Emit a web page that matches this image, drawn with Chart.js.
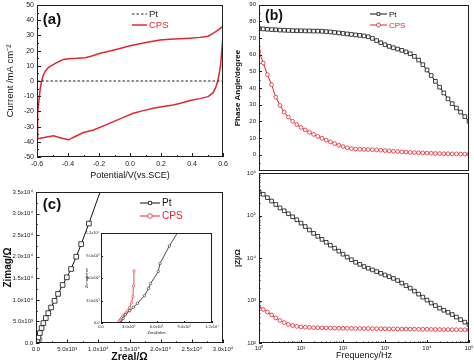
<!DOCTYPE html>
<html><head><meta charset="utf-8">
<script src="https://cdn.jsdelivr.net/npm/chart.js@4/dist/chart.umd.min.js"></script>
<style>
html,body{margin:0;padding:0;background:#fff;}
body{width:474px;height:364px;position:relative;overflow:hidden;}
canvas{position:absolute;}
</style></head><body>
<canvas id="ca" width="230" height="182" style="left:0;top:0"></canvas>
<canvas id="cc" width="242" height="182" style="left:0;top:182px"></canvas>
<canvas id="ci" width="142" height="112" style="left:78px;top:224px"></canvas>
<canvas id="cb" width="244" height="176" style="left:230px;top:0"></canvas>
<canvas id="cd" width="244" height="199" style="left:230px;top:165px"></canvas>
<script>
// ---------- DATA ----------
// (a) cyclic voltammetry
const ptV = [-0.6, 0.6];
const ptI = [0, 0];
const cpsV = [-0.6,-0.598,-0.594,-0.587,-0.579,-0.570,-0.561,-0.546,-0.525,-0.493,-0.461,-0.429,-0.396,-0.343,-0.289,-0.246,-0.193,-0.129,-0.064,0.0,0.064,0.129,0.193,0.257,0.321,0.386,0.45,0.504,0.536,0.568,0.596,0.602,0.596,0.589,0.583,0.574,0.566,0.553,0.536,0.504,0.45,0.396,0.343,0.279,0.214,0.15,0.086,0.021,-0.043,-0.107,-0.171,-0.236,-0.3,-0.354,-0.396,-0.439,-0.493,-0.536,-0.579,-0.6];
const cpsI = [-37.6,-30,-21.2,-12.5,-4.8,0,3.3,6.6,9.0,10.9,12.7,14.2,14.7,14.9,15.3,16.4,18.2,19.7,21.4,23.2,24.5,25.8,26.9,27.4,27.8,28.2,28.7,29.5,31.3,33.5,35.7,34.6,24.7,16,9.4,3.9,0,-4.2,-7.7,-10.3,-11.6,-12.7,-14.2,-15.8,-16.8,-17.9,-19.5,-21.2,-23.9,-26.7,-29.5,-32.2,-33.9,-36.5,-38.7,-37.6,-36.1,-36.8,-37.6,-38.3];
const aXTicks = [-0.6,-0.4,-0.2,0,0.2,0.4,0.6];
const aXLabels = ['-0.6','-0.4','-0.2','0.0','0.2','0.4','0.6'];
const aYTicks = [-50,-40,-30,-20,-10,0,10,20,30,40,50];
const aYLabels = ['-50','-40','-30','-20','-10','0','10','20','30','40','50'];

// (b),(d) Bode
const freq = [1,1.259,1.585,1.995,2.512,3.162,3.981,5.012,6.31,7.943,10,12.59,15.85,19.95,25.12,31.62,39.81,50.12,63.1,79.43,100,125.9,158.5,199.5,251.2,316.2,398.1,501.2,631,794.3,1000,1259,1585,1995,2512,3162,3981,5012,6310,7943,10000,12589,15849,19953,25119,31623,39811,50119,63096,79433,100000];
const ptPhase = [75.8,75.5,75.3,75.1,75.0,74.8,74.7,74.6,74.5,74.4,74.4,74.3,74.3,74.2,74.2,74.1,73.9,73.7,73.4,73.1,72.8,72.5,72.2,71.9,71.6,71.3,70.8,69.8,68.5,67.2,66.0,65.0,64.2,63.4,62.6,61.7,60.6,59.0,56.8,54.0,50.8,47.5,44.0,40.5,37.0,33.5,30.6,28.0,25.5,22.8,20.0];
const cpsPhase = [62.0,55.0,48.0,42.0,34.5,29.5,25.5,22.5,20.0,18.0,16.3,14.8,13.4,12.1,10.9,9.8,8.7,7.6,6.6,5.6,4.8,4.1,3.6,3.3,3.2,3.1,3.0,2.9,2.8,2.6,2.4,2.2,2.0,1.8,1.6,1.5,1.3,1.2,1.1,1.0,0.9,0.8,0.7,0.6,0.5,0.5,0.4,0.4,0.3,0.3,0.2];
const ptZ = [363000,316000,263000,219000,182000,151000,129000,110000,93300,79400,66100,55000,45700,38000,32400,27500,23400,20000,17000,14500,12300,10500,9120,7940,7080,6310,5750,5250,4790,4370,3980,3630,3310,2950,2570,2240,1950,1660,1410,1200,1020,871,759,661,589,525,468,407,355,309,269];
const cpsZ = [708,617,537,457,389,339,302,275,257,246,239,235,232,230,228,227,226,225,224,223,222,222,221,220,220,219,218,218,217,216,216,215,215,214,213,213,212,212,211,210,210,209,209,208,207,207,206,206,205,205,204];
const bYTicks = [0,10,20,30,40,50,60,70,80,90];
const bYLabels = ['0','10','20','30','40','50','60','70','80','90'];
const fTicks = [1,10,100,1000,10000,100000];
const fLabels = ['10⁰','10¹','10²','10³','10⁴','10⁵'];
const zTicks = [100,1000,10000,100000,1000000];
const zLabels = ['10²','10³','10⁴','10⁵','10⁶'];

// (c) Nyquist
const ptRe = [110,220,390,620,900,1180,1570,1970,2420,2980,3540,4270,4940,5620,6460,7250,8480,10400];
const ptIm = [150,620,1310,2310,3460,4620,5770,6920,8230,9770,11380,13460,15230,17150,20000,22920,27690,35500];
const cpsRe = [80,180,300,450,600];
const cpsIm = [60,200,380,600,850];
const cXTicks = [0,5000,10000,15000,20000,25000,30000];
const cXLabels = ['0.0','5.0x10³','1.0x10⁴','1.5x10⁴','2.0x10⁴','2.5x10⁴','3.0x10⁴'];
const cYTicks = [0,5000,10000,15000,20000,25000,30000,35000];
const cYLabels = ['0.0','5.0x10³','1.0x10⁴','1.5x10⁴','2.0x10⁴','2.5x10⁴','3.0x10⁴','3.5x10⁴'];
// inset
const inPtRe = [2140,2400,2625,3110,3500,3940,4690,5140,5360,6190,6375,7390,8300];
const inPtIm = [0,600,1110,1640,2100,2610,3630,4600,5270,6860,7930,10270,12100];
const inCpsRe = [1900,1980,2060,2150,2250,2380,2520,2700,2900,3100,3300,3450,3500,3560];
const inCpsIm = [80,220,380,540,720,900,1100,1350,1650,2050,2700,3500,4900,6950];
const iTicks = [0,3000,6000,9000,12000];
const iLabels = ['0.0','3.0x10³','6.0x10³','9.0x10³','1.2x10⁴'];

// ---------- HELPERS ----------
const RED = '#e3262e';
const FONT = '"Liberation Sans", Arial, Helvetica, sans-serif';
Chart.defaults.font.family = FONT;

const pts = (xs, ys) => xs.map((x, i) => ({x, y: ys[i]}));
const minorLin = v => { const o = []; for (let i = 0; i < v.length - 1; i++) o.push((v[i] + v[i+1]) / 2); return o; };
const minorLog = (min, max) => { const o = []; for (let d = Math.round(Math.log10(min)); Math.pow(10, d) < max; d++) for (let k = 2; k < 10; k++) o.push(k * Math.pow(10, d)); return o; };

function axis(o) {
  return {
    type: o.type || 'linear', min: o.min, max: o.max,
    grid: {display: false, drawTicks: false}, border: {display: false},
    ticks: {display: !!o.labels, font: {family: FONT, size: o.size || 6.5}, color: '#222', padding: o.pad || 2,
            maxRotation: 0, autoSkip: false, callback: (v, i) => o.labels ? o.labels[i] : ''},
    afterBuildTicks: s => { s.ticks = o.vals.map(v => ({value: v})); },
    afterFit: s => {
      if (s.isHorizontal()) s.height = o.fit; else s.width = o.fit;
      s.paddingLeft = 0; s.paddingRight = 0; s.paddingTop = 0; s.paddingBottom = 0;
    },
    title: o.title ? {display: true, text: o.title, color: '#111',
      font: {family: FONT, size: o.tsize, weight: o.tbold ? 'bold' : 'normal'},
      padding: {top: o.tpad, bottom: o.tpad}} : {display: false}
  };
}

function marker(ctx, style, x, y, r, color, bw) {
  ctx.save(); ctx.setLineDash([]); ctx.fillStyle = '#fff'; ctx.strokeStyle = color; ctx.lineWidth = bw || 1;
  ctx.beginPath();
  if (style === 'rect') { const s = r * Math.SQRT1_2; ctx.rect(x - s, y - s, 2 * s, 2 * s); }
  else ctx.arc(x, y, r, 0, Math.PI * 2);
  ctx.fill(); ctx.stroke(); ctx.restore();
}

const framePlugin = {
  id: 'frame',
  afterDatasetsDraw(chart, args, o) {
    const {ctx, chartArea: a, scales} = chart;
    ctx.save();
    ctx.strokeStyle = '#1e1e1e'; ctx.lineWidth = 1; ctx.setLineDash([]);
    const L = Math.round(a.left), T = Math.round(a.top), R = Math.round(a.right), B = Math.round(a.bottom);
    ctx.strokeRect(L + 0.5, T + 0.5, R - L - 1, B - T - 1);
    const maj = o.tick || 4, mn = maj / 2;
    ctx.beginPath();
    if (!o.noX) {
      const s = scales.x;
      s.ticks.forEach(t => { const p = Math.round(s.getPixelForValue(t.value)) + 0.5; ctx.moveTo(p, B); ctx.lineTo(p, B - maj); });
      (o.xMinor || []).forEach(v => { const p = Math.round(s.getPixelForValue(v)) + 0.5; ctx.moveTo(p, B); ctx.lineTo(p, B - mn); });
    }
    const sy = scales.y;
    sy.ticks.forEach(t => { const p = Math.round(sy.getPixelForValue(t.value)) + 0.5; ctx.moveTo(L, p); ctx.lineTo(L + maj, p); });
    (o.yMinor || []).forEach(v => { const p = Math.round(sy.getPixelForValue(v)) + 0.5; ctx.moveTo(L, p); ctx.lineTo(L + mn, p); });
    ctx.stroke();
    if (o.legend) {
      const g = o.legend;
      chart.data.datasets.forEach((ds, i) => {
        if (!ds.label) return;
        const y = g.y + i * g.dy;
        ctx.save();
        ctx.strokeStyle = ds.borderColor; ctx.lineWidth = ds.borderWidth || 1; ctx.setLineDash(ds.borderDash || []);
        ctx.beginPath(); ctx.moveTo(g.x, y); ctx.lineTo(g.x + g.len, y); ctx.stroke();
        ctx.restore();
        if (g.r) marker(ctx, ds.pointStyle, g.x + g.len / 2, y, g.r, ds.borderColor, 0.8);
        ctx.fillStyle = ds.borderColor; ctx.font = g.size + 'px ' + FONT; ctx.textBaseline = 'middle'; ctx.textAlign = 'left';
        ctx.fillText(ds.label, g.x + g.len + 2, y + 0.5);
      });
    }
    if (o.label) {
      ctx.fillStyle = '#111'; ctx.font = 'bold ' + o.label.size + 'px ' + FONT;
      ctx.textBaseline = 'middle'; ctx.textAlign = 'center';
      ctx.fillText(o.label.text, o.label.x, o.label.y);
    }
    ctx.restore();
  }
};
Chart.register(framePlugin);

function options(padding, x, y, frame) {
  return {responsive: false, animation: false, devicePixelRatio: 1, layout: {padding},
    plugins: {legend: {display: false}, tooltip: {enabled: false}, frame}, scales: {x, y}};
}

// ---------- (a) ----------
new Chart(document.getElementById('ca'), {
  type: 'scatter',
  data: {datasets: [
    {label: 'Pt', data: pts(ptV, ptI), showLine: true, borderColor: '#222', borderWidth: 1, borderDash: [2.5, 2], pointRadius: 0},
    {label: 'CPS', data: pts(cpsV, cpsI), showLine: true, borderColor: RED, borderWidth: 1.5, pointRadius: 0}
  ]},
  options: options({top: 5, right: 7, left: 0, bottom: 0},
    axis({min: -0.6, max: 0.6, vals: aXTicks, labels: aXLabels, size: 7, fit: 25, pad: 3,
          title: 'Potential/V(vs.SCE)', tsize: 9, tpad: 1.5}),
    axis({min: -50, max: 50, vals: aYTicks, labels: aYLabels, size: 7, fit: 37, pad: 3,
          title: 'Current /mA cm⁻²', tsize: 9.5, tpad: 5}),
    {xMinor: minorLin(aXTicks), yMinor: minorLin(aYTicks), tick: 4,
     legend: {x: 132, y: 14, dy: 11, len: 15, size: 9.5},
     label: {text: '(a)', x: 52, y: 20, size: 15}})
});

// ---------- (b) ----------
new Chart(document.getElementById('cb'), {
  type: 'scatter',
  data: {datasets: [
    {label: 'Pt', data: pts(freq, ptPhase), showLine: true, borderColor: '#111', borderWidth: 1,
     pointStyle: 'rect', pointRadius: 2.6, pointBorderWidth: 0.8, pointBackgroundColor: '#fff', pointBorderColor: '#111'},
    {label: 'CPS', data: pts(freq, cpsPhase), showLine: true, borderColor: RED, borderWidth: 1,
     pointStyle: 'circle', pointRadius: 1.9, pointBorderWidth: 0.8, pointBackgroundColor: '#fff', pointBorderColor: RED}
  ]},
  options: options({top: 4, right: 5, left: 0, bottom: 3},
    axis({type: 'logarithmic', min: 1, max: 100000, vals: fTicks, labels: null, fit: 0}),
    axis({min: -10, max: 90, vals: bYTicks, labels: bYLabels, size: 6, fit: 29, pad: 3,
          title: 'Phase Angle/degree', tsize: 8, tbold: true, tpad: 3}),
    {noX: true, yMinor: [-5,5,15,25,35,45,55,65,75,85], tick: 3,
     legend: {x: 140, y: 14, dy: 11, len: 17, size: 8, r: 2},
     label: {text: '(b)', x: 44, y: 16, size: 14}})
});

// ---------- (d) ----------
new Chart(document.getElementById('cd'), {
  type: 'scatter',
  data: {datasets: [
    {data: pts(freq, ptZ), showLine: true, borderColor: '#111', borderWidth: 1,
     pointStyle: 'rect', pointRadius: 2.6, pointBorderWidth: 0.8, pointBackgroundColor: '#fff', pointBorderColor: '#111'},
    {data: pts(freq, cpsZ), showLine: true, borderColor: RED, borderWidth: 1,
     pointStyle: 'circle', pointRadius: 1.9, pointBorderWidth: 0.8, pointBackgroundColor: '#fff', pointBorderColor: RED}
  ]},
  options: options({top: 8, right: 5, left: 0, bottom: 0},
    axis({type: 'logarithmic', min: 1, max: 100000, vals: fTicks, labels: fLabels, size: 6, fit: 21, pad: 2,
          title: 'Frequency/Hz', tsize: 9, tpad: 3}),
    axis({type: 'logarithmic', min: 100, max: 1000000, vals: zTicks, labels: zLabels, size: 6, fit: 29, pad: 3,
          title: '|Z|/Ω', tsize: 8, tbold: true, tpad: 3}),
    {xMinor: minorLog(1, 100000), yMinor: minorLog(100, 1000000), tick: 3})
});

// ---------- (c) ----------
new Chart(document.getElementById('cc'), {
  type: 'scatter',
  data: {datasets: [
    {label: 'Pt', data: pts(ptRe, ptIm), showLine: true, borderColor: '#111', borderWidth: 1,
     pointStyle: 'rect', pointRadius: 3.3, pointBorderWidth: 0.8, pointBackgroundColor: '#fff', pointBorderColor: '#111'},
    {label: 'CPS', data: pts(cpsRe, cpsIm), showLine: true, borderColor: RED, borderWidth: 1,
     pointStyle: 'circle', pointRadius: 2.3, pointBorderWidth: 0.8, pointBackgroundColor: '#fff', pointBorderColor: RED}
  ]},
  options: options({top: 10, right: 19, left: 0, bottom: 0},
    axis({min: 0, max: 30000, vals: cXTicks, labels: cXLabels, size: 6, fit: 21, pad: 3,
          title: 'Zreal/Ω', tsize: 10.5, tbold: true, tpad: 1}),
    axis({min: 0, max: 35000, vals: cYTicks, labels: cYLabels, size: 6, fit: 36, pad: 3,
          title: 'Zimag/Ω', tsize: 10, tbold: true, tpad: 2}),
    {xMinor: minorLin(cXTicks), yMinor: minorLin(cYTicks), tick: 3.5,
     legend: {x: 140, y: 21, dy: 13, len: 20, size: 10, r: 2.3},
     label: {text: '(c)', x: 52, y: 23, size: 15}})
});

// ---------- inset ----------
new Chart(document.getElementById('ci'), {
  type: 'scatter',
  data: {datasets: [
    {data: pts(inPtRe, inPtIm), showLine: true, borderColor: '#222', borderWidth: 0.8,
     pointStyle: 'circle', pointRadius: 1.2, pointBorderWidth: 0.6, pointBackgroundColor: '#fff', pointBorderColor: '#222'},
    {data: pts(inCpsRe, inCpsIm), showLine: true, borderColor: RED, borderWidth: 0.8,
     pointStyle: 'circle', pointRadius: 1.2, pointBorderWidth: 0.6, pointBackgroundColor: '#fff', pointBorderColor: RED}
  ]},
  options: options({top: 9, right: 8, left: 0, bottom: 0},
    axis({min: 0, max: 12000, vals: iTicks, labels: iLabels, size: 4, fit: 13, pad: 1.5,
          title: 'Zreal/ohm', tsize: 4, tpad: 0.5}),
    axis({min: 0, max: 12000, vals: iTicks, labels: iLabels, size: 4, fit: 23, pad: 1.5,
          title: 'Zimag/ohm', tsize: 4, tpad: 6}),
    {xMinor: minorLin(iTicks), yMinor: minorLin(iTicks), tick: 2})
});
</script>
</body></html>
